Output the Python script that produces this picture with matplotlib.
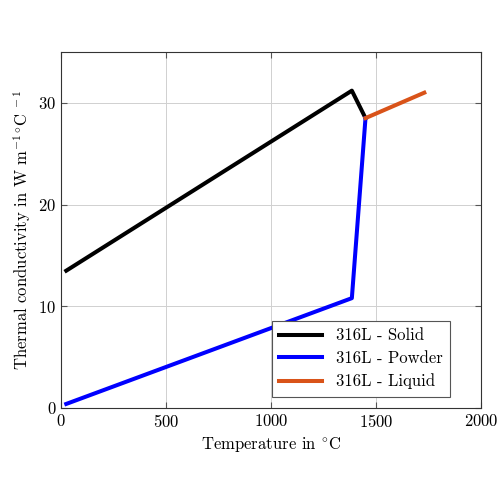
import matplotlib
matplotlib.use('Agg')
import matplotlib.pyplot as plt

# temperature (C) and thermal conductivity (W/m/C) for 316L
solid_t = [25, 1385, 1450]
solid_k = [13.5, 31.2, 28.5]
powder_t = [25, 1385, 1450]
powder_k = [0.4, 10.8, 28.5]
liquid_t = [1450, 1730]
liquid_k = [28.5, 31.0]

plt.rcParams['font.family'] = 'serif'
plt.rcParams['font.serif'] = ['cmr10']
plt.rcParams['mathtext.fontset'] = 'cm'
plt.rcParams['axes.formatter.use_mathtext'] = True
plt.rcParams['font.size'] = 12

fig = plt.figure(figsize=(5, 5), dpi=100)
ax = fig.add_axes([0.122, 0.184, 0.84, 0.712])

ax.plot(solid_t, solid_k, color='black', lw=2.9, label='316L - Solid')
ax.plot(powder_t, powder_k, color='#0000ff', lw=2.9, label='316L - Powder')
ax.plot(liquid_t, liquid_k, color='#d95319', lw=2.9, label='316L - Liquid')

ax.set_xlim(0, 2000)
ax.set_ylim(0, 35)
ax.set_xticks([0, 500, 1000, 1500, 2000])
ax.set_yticks([0, 10, 20, 30])
ax.grid(True, color='#d0d0d0', lw=0.7)
ax.set_axisbelow(True)
ax.tick_params(direction='in', top=True, right=True, length=4, color='#555555')
for s in ax.spines.values():
    s.set_color('#333333')

ax.set_xlabel(r'Temperature in $^{\circ}$C')
ax.set_ylabel(r'Thermal conductivity in W m$^{\mathregular{-1}}$$^{\circ}$C$^{\mathregular{\ -1}}$')

leg = ax.legend(loc='lower right', bbox_to_anchor=(0.926, 0.031), borderaxespad=0,
                fancybox=False, edgecolor='#555555', framealpha=1, handlelength=2.6,
                borderpad=0.45, labelspacing=0.45)
leg.get_frame().set_linewidth(0.8)

plt.savefig('out.png', dpi=100)
